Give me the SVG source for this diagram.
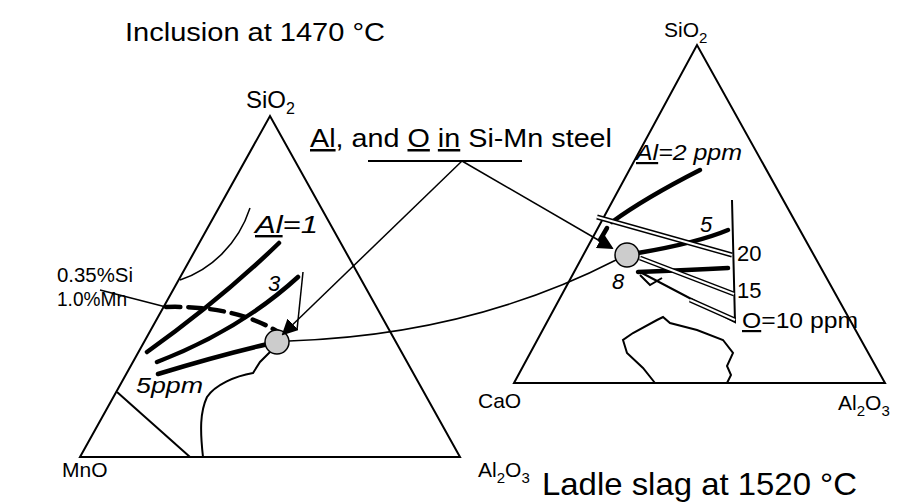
<svg xmlns="http://www.w3.org/2000/svg" width="905" height="504" viewBox="0 0 905 504">
<defs>
<style>
text{font-family:"Liberation Sans",Arial,sans-serif;fill:#000}
.t{fill:none;stroke:#000;stroke-width:2}
.b{fill:none;stroke:#000;stroke-width:4.5;stroke-linecap:round}
.th{fill:none;stroke:#000;stroke-width:1.5}
.dl{fill:none;stroke:#000;stroke-width:5}
.dw{fill:none;stroke:#fff;stroke-width:2}
.it{font-style:italic}
</style>
<marker id="ah2" markerWidth="16" markerHeight="16" refX="14" refY="8" orient="auto" markerUnits="userSpaceOnUse" viewBox="0 0 16 16"><path d="M0,0 L16,8 L0,16 z" fill="#000"/></marker>
</defs>
<rect width="905" height="504" fill="#fff"/>
<text x="125" y="41" font-size="26" textLength="260" lengthAdjust="spacingAndGlyphs">Inclusion at 1470 °C</text>
<text x="542" y="495" font-size="32" textLength="315" lengthAdjust="spacingAndGlyphs">Ladle slag at 1520 °C</text>
<g id="left-diagram">
<path class="t" d="M80,457 L270,116 L460,457 Z"/>
<path class="th" d="M180,280 C210,270 238,245 250,208"/>
<path class="b" d="M147,352 Q220,300 279,243"/>
<path class="b" d="M157,362 Q240,330 298,277"/>
<path class="b" d="M158,374 Q220,355 268,344"/>
<path class="b" stroke-dasharray="14,8" d="M166,307 Q235,305 280,333"/>
<path class="th" d="M303,272 L297,330"/>
<path class="t" d="M270,352 L260,362 L253,373 C235,376 215,385 207,397 C200,412 200,430 203,457"/>
<path class="t" d="M117,392 L190,457"/>
<path class="th" d="M100,290 L166,307"/>
<circle cx="277" cy="342" r="12" fill="#ccc" stroke="#000" stroke-width="1.5"/>
<text x="255" y="233" font-size="24" class="it" textLength="63" lengthAdjust="spacingAndGlyphs"><tspan text-decoration="underline">Al</tspan>=1</text>
<text x="268" y="291" font-size="22" class="it">3</text>
<text x="136" y="393" font-size="22" class="it" textLength="67" lengthAdjust="spacingAndGlyphs">5ppm</text>
<text x="57" y="282" font-size="20" textLength="76" lengthAdjust="spacingAndGlyphs">0.35%Si</text>
<text x="57" y="306" font-size="20" textLength="70" lengthAdjust="spacingAndGlyphs">1.0%Mn</text>
<text x="246" y="108" font-size="24">SiO<tspan font-size="16" dy="6">2</tspan></text>
<text x="62" y="477" font-size="21">MnO</text>
<text x="478" y="477" font-size="21">Al<tspan font-size="15" dy="6">2</tspan><tspan dy="-6">O</tspan><tspan font-size="15" dy="6">3</tspan></text>
</g>
<g id="right-diagram">
<path class="t" d="M514,383 L697,45 L885,383 Z"/>
<path class="b" d="M612,222 Q645,198 700,170"/>
<path class="b" d="M607,228 L600,240"/>
<path class="b" d="M638,253 Q697,243 728,230"/>
<path class="b" d="M638,272 Q690,270 728,268"/>
<path class="t" d="M732,200 L735,322 L640,272"/>
<path class="t" d="M640,275 L650,285 L662,278"/>
<path class="dl" d="M597,217 L732,255"/><path class="dw" d="M597,217 L732,255"/>
<path class="dl" d="M640,258 L734,294"/><path class="dw" d="M640,258 L734,294"/>
<path class="dl" d="M690,300 L735,320"/><path class="dw" d="M690,300 L735,320"/>
<path class="t" d="M655,383 L643,368 L627,353 L623,340 L633,333 L657,320 L663,317 L670,323 L697,330 L723,340 L733,353 L727,366 L731,375 L727,383"/>
<circle cx="627" cy="255" r="12" fill="#ccc" stroke="#000" stroke-width="1.5"/>
<text x="636" y="160" font-size="22" class="it" textLength="106" lengthAdjust="spacingAndGlyphs"><tspan text-decoration="underline">Al</tspan>=2 ppm</text>
<text x="700" y="232" font-size="22" class="it">5</text>
<text x="612" y="289" font-size="22" class="it">8</text>
<text x="737" y="261" font-size="22">20</text>
<text x="737" y="298" font-size="22">15</text>
<text x="742" y="328" font-size="22" textLength="116" lengthAdjust="spacingAndGlyphs"><tspan text-decoration="underline">O</tspan>=10 ppm</text>
<text x="664" y="37" font-size="21">SiO<tspan font-size="15" dy="6">2</tspan></text>
<text x="478" y="408" font-size="21">CaO</text>
<text x="838" y="410" font-size="21">Al<tspan font-size="15" dy="6">2</tspan><tspan dy="-6">O</tspan><tspan font-size="15" dy="6">3</tspan></text>
</g>
<g id="label">
<text x="310" y="147" font-size="25" textLength="302" lengthAdjust="spacingAndGlyphs"><tspan text-decoration="underline">Al</tspan>, and <tspan text-decoration="underline">O</tspan> <tspan text-decoration="underline">in</tspan> Si-Mn steel</text>
</g>
<g id="connectors">
<path class="t" d="M368,161 L522,161"/>
<path class="th" d="M462,161 L283,334" marker-end="url(#ah2)"/>
<path class="th" d="M462,161 L612,248" marker-end="url(#ah2)"/>
<path class="th" d="M289,341 Q470,335 616,260"/>
</g>
</svg>
